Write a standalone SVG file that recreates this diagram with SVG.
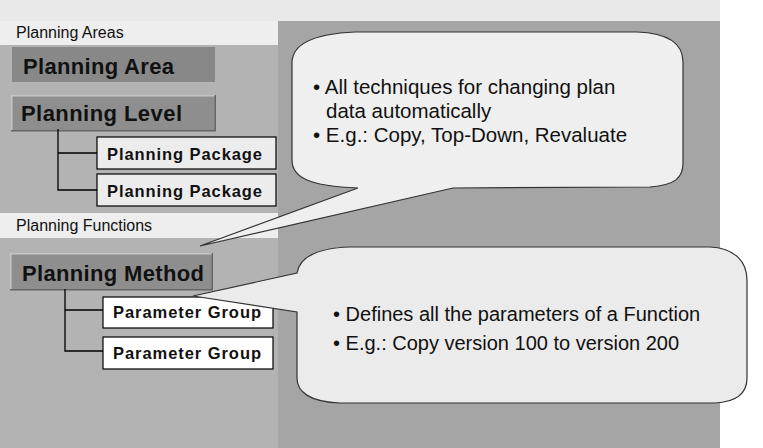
<svg xmlns="http://www.w3.org/2000/svg" width="763" height="448" viewBox="0 0 763 448">
<style>
.lbl{font-family:"Liberation Sans",Arial,sans-serif;font-size:16px;fill:#111}
.big{font-family:"Liberation Sans",Arial,sans-serif;font-size:22px;font-weight:bold;fill:#111}
.sm{font-family:"Liberation Sans",Arial,sans-serif;font-size:16.5px;font-weight:bold;fill:#111}
.co{font-family:"Liberation Sans",Arial,sans-serif;font-size:20.5px;fill:#111}
.co2{font-family:"Liberation Sans",Arial,sans-serif;font-size:20px;fill:#111}
.hl{fill:#c6c6c6}
.sh{fill:#666}
.conn{fill:none;stroke:#000;stroke-width:1.3}
.bub{stroke:#333;stroke-width:1.2}
</style>
<rect x="0" y="0" width="763" height="448" fill="#ffffff"/>
<rect x="0" y="0" width="720" height="21" fill="#e9e9e9"/>
<rect x="0" y="21" width="278" height="427" fill="#b3b3b3"/>
<rect x="278" y="21" width="442" height="427" fill="#a5a5a5"/>
<rect x="0" y="21" width="278" height="24" fill="#eeeeee"/>
<rect x="0" y="213" width="278" height="25" fill="#eeeeee"/>
<text class="lbl" x="16" y="38">Planning Areas</text>
<text class="lbl" x="16" y="231">Planning Functions</text>

<g id="planning-area">
<rect x="12" y="47" width="203" height="35" fill="#888888"/>
<text class="big" x="23" y="74" textLength="151" lengthAdjust="spacing">Planning Area</text>
</g>
<g id="planning-level">
<rect x="11" y="95" width="204" height="36" fill="#8e8e8e"/>
<rect class="hl" x="11" y="95" width="204" height="1.5"/>
<rect class="hl" x="11" y="95" width="1.5" height="36"/>
<rect class="sh" x="11" y="130" width="205" height="1.5"/>
<rect class="sh" x="214.5" y="95" width="1.5" height="36"/>
<text class="big" x="21" y="121" textLength="161" lengthAdjust="spacing">Planning Level</text>
</g>
<g id="planning-package-1">
<rect x="97" y="137" width="179" height="32" fill="#ececec" stroke="#000" stroke-width="1.2"/>
<text class="sm" x="107" y="160" textLength="155" lengthAdjust="spacing">Planning Package</text>
</g>
<g id="planning-package-2">
<rect x="97" y="174" width="179" height="32" fill="#ececec" stroke="#000" stroke-width="1.2"/>
<text class="sm" x="107" y="197" textLength="155" lengthAdjust="spacing">Planning Package</text>
</g>
<g id="planning-method">
<rect x="10" y="253" width="202" height="37" fill="#8e8e8e"/>
<rect class="hl" x="10" y="253" width="202" height="1.5"/>
<rect class="hl" x="10" y="253" width="1.5" height="37"/>
<rect class="sh" x="10" y="289" width="203" height="1.5"/>
<rect class="sh" x="211.5" y="253" width="1.5" height="37"/>
<text class="big" x="22" y="281" textLength="182" lengthAdjust="spacing">Planning Method</text>
</g>
<g id="parameter-group-1">
<rect x="103" y="297" width="170" height="31" fill="#ffffff" stroke="#000" stroke-width="1.2"/>
<text class="sm" x="113" y="318" textLength="148" lengthAdjust="spacing">Parameter Group</text>
</g>
<g id="parameter-group-2">
<rect x="103" y="337" width="170" height="32" fill="#ffffff" stroke="#000" stroke-width="1.2"/>
<text class="sm" x="113" y="359" textLength="148" lengthAdjust="spacing">Parameter Group</text>
</g>

<g id="connectors">
<path class="conn" d="M58,129 V190 H97 M58,153 H97"/>
<path class="conn" d="M65,289 V351 H103 M65,310 H103"/>
</g>

<g id="callout-1">
<path class="bub" fill="#efefef" d="M358,188 L200,246 L453,188 L650,187 C675,185 683,178 683,163 L683,62 C683,42 665,33 637,32 L355,32 C310,34 292,45 292,63 L292,160 C292,178 310,186 358,188 Z"/>
<text class="co" x="313" y="94">• All techniques for changing plan</text>
<text class="co" x="326" y="118">data automatically</text>
<text class="co" x="313" y="142">• E.g.: Copy, Top-Down, Revaluate</text>
</g>
<g id="callout-2">
<path class="bub" fill="#ebebeb" d="M193,296 L297,273 C300,255 320,248 350,247 L710,247 C735,248 747,262 747,280 L747,378 C747,395 735,402 715,403 L340,403 C310,402 297,392 297,378 L297,312 Z"/>
<text class="co2" x="333" y="321">• Defines all the parameters of a Function</text>
<text class="co2" x="333" y="350">• E.g.: Copy version 100 to version 200</text>
</g>
</svg>
